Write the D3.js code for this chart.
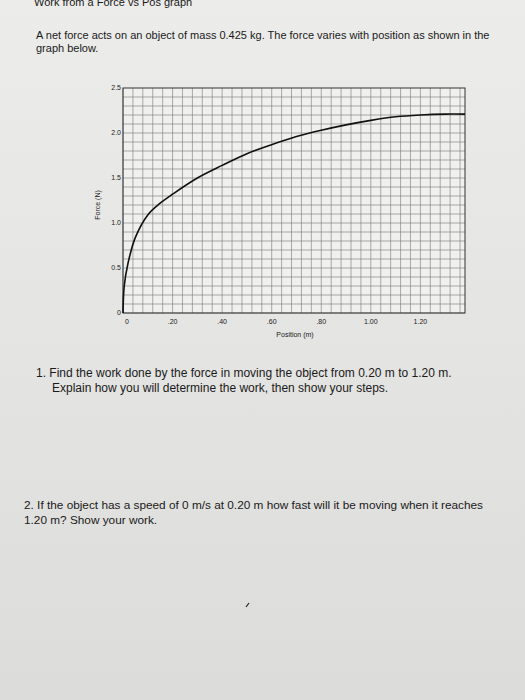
<!DOCTYPE html>
<html><head><meta charset="utf-8">
<script src="https://cdn.jsdelivr.net/npm/d3@7"></script>
<style>body{margin:0;background:#e4e4e2}</style>
</head><body>
<svg id="page" width="525" height="700"></svg>
<script>
// force vs position
var positions = [0, 0.005, 0.02, 0.05, 0.1, 0.15, 0.2, 0.3, 0.4, 0.5, 0.6, 0.7, 0.8, 0.9, 1.0, 1.1, 1.2, 1.3, 1.38];
var forces    = [0, 0.3, 0.55, 0.84, 1.09, 1.22, 1.32, 1.5, 1.64, 1.77, 1.87, 1.96, 2.03, 2.09, 2.14, 2.18, 2.2, 2.21, 2.21];
var xTicks = [0, 0.2, 0.4, 0.6, 0.8, 1.0, 1.2];
var xTickLabels = ['0', '.20', '.40', '.60', '.80', '1.00', '1.20'];
var yTicks = [0, 0.5, 1.0, 1.5, 2.0, 2.5];
var yTickLabels = ['0', '0.5', '1.0', '1.5', '2.0', '2.5'];

var svg = d3.select('#page');
var font = 'Liberation Sans, Arial, sans-serif';

var bg = svg.append('defs').append('linearGradient').attr('id', 'paper')
    .attr('x1', 0).attr('y1', 0).attr('x2', 0).attr('y2', 1);
bg.append('stop').attr('offset', 0).attr('stop-color', '#ececea');
bg.append('stop').attr('offset', 1).attr('stop-color', '#dcdcda');
svg.append('rect').attr('width', 525).attr('height', 700).attr('fill', 'url(#paper)');

function txt(x, y, s, size, weight) {
    return svg.append('text').attr('x', x).attr('y', y).attr('font-family', font)
        .attr('font-size', size).attr('font-weight', weight || 'normal').attr('fill', '#1a1a1a').text(s);
}
txt(34, 6, 'Work from a Force vs Pos graph', 11);
txt(36, 39, 'A net force acts on an object of mass 0.425 kg. The force varies with position as shown in the', 11);
txt(36, 52, 'graph below.', 11);

var pLeft = 123, pTop = 88, pRight = 465, pBottom = 313;
var x = d3.scaleLinear().domain([0, 1.38]).range([pLeft, pRight]);
var y = d3.scaleLinear().domain([0, 2.5]).range([pBottom, pTop]);

var g = svg.append('g');
g.append('rect').attr('x', pLeft).attr('y', pTop).attr('width', pRight - pLeft).attr('height', pBottom - pTop)
    .attr('fill', '#f0f0ee');
// minor grid
g.selectAll('line.vx').data(d3.range(0, 1.38, 0.04)).enter().append('line')
    .attr('x1', function (d) { return x(d); }).attr('x2', function (d) { return x(d); })
    .attr('y1', pTop).attr('y2', pBottom).attr('stroke', '#777').attr('stroke-width', 0.6);
g.selectAll('line.hy').data(d3.range(0, 2.5, 0.1)).enter().append('line')
    .attr('y1', function (d) { return y(d); }).attr('y2', function (d) { return y(d); })
    .attr('x1', pLeft).attr('x2', pRight).attr('stroke', '#777').attr('stroke-width', 0.6);
g.append('rect').attr('x', pLeft).attr('y', pTop).attr('width', pRight - pLeft).attr('height', pBottom - pTop)
    .attr('fill', 'none').attr('stroke', '#333').attr('stroke-width', 1);

g.selectAll('text.xt').data(xTicks).enter().append('text')
    .attr('x', function (d) { return x(d) + (d === 0 ? 4 : 0); }).attr('y', pBottom + 11)
    .attr('text-anchor', 'middle').attr('font-family', font).attr('font-size', 7).attr('fill', '#222')
    .text(function (d, i) { return xTickLabels[i]; });
g.selectAll('text.yt').data(yTicks).enter().append('text')
    .attr('x', pLeft - 2).attr('y', function (d) { return y(d) + 2; })
    .attr('text-anchor', 'end').attr('font-family', font).attr('font-size', 7).attr('fill', '#222')
    .text(function (d, i) { return yTickLabels[i]; });

txt(295, 337, 'Position (m)', 7).attr('text-anchor', 'middle');
svg.append('text').attr('transform', 'translate(100,205) rotate(-90)').attr('text-anchor', 'middle')
    .attr('font-family', font).attr('font-size', 7).attr('fill', '#222').text('Force (N)');

var line = d3.line().x(function (d, i) { return x(positions[i]); }).y(function (d) { return y(d); })
    .curve(d3.curveCatmullRom.alpha(0.5));
g.append('path').datum(forces).attr('d', line).attr('fill', 'none').attr('stroke', '#111').attr('stroke-width', 1.6);

txt(36, 377, '1.  Find the work done by the force in moving the object from 0.20 m to 1.20 m.', 12);
txt(52, 392, 'Explain how you will determine the work, then show your steps.', 12);
txt(24, 509, '2. If the object has a speed of 0 m/s at 0.20 m how fast will it be moving when it reaches', 11.8);
txt(24, 524, '1.20 m? Show your work.', 11.8);
svg.append('line').attr('x1', 246).attr('y1', 607).attr('x2', 249).attr('y2', 603)
    .attr('stroke', '#222').attr('stroke-width', 1.2);
</script>
</body></html>
